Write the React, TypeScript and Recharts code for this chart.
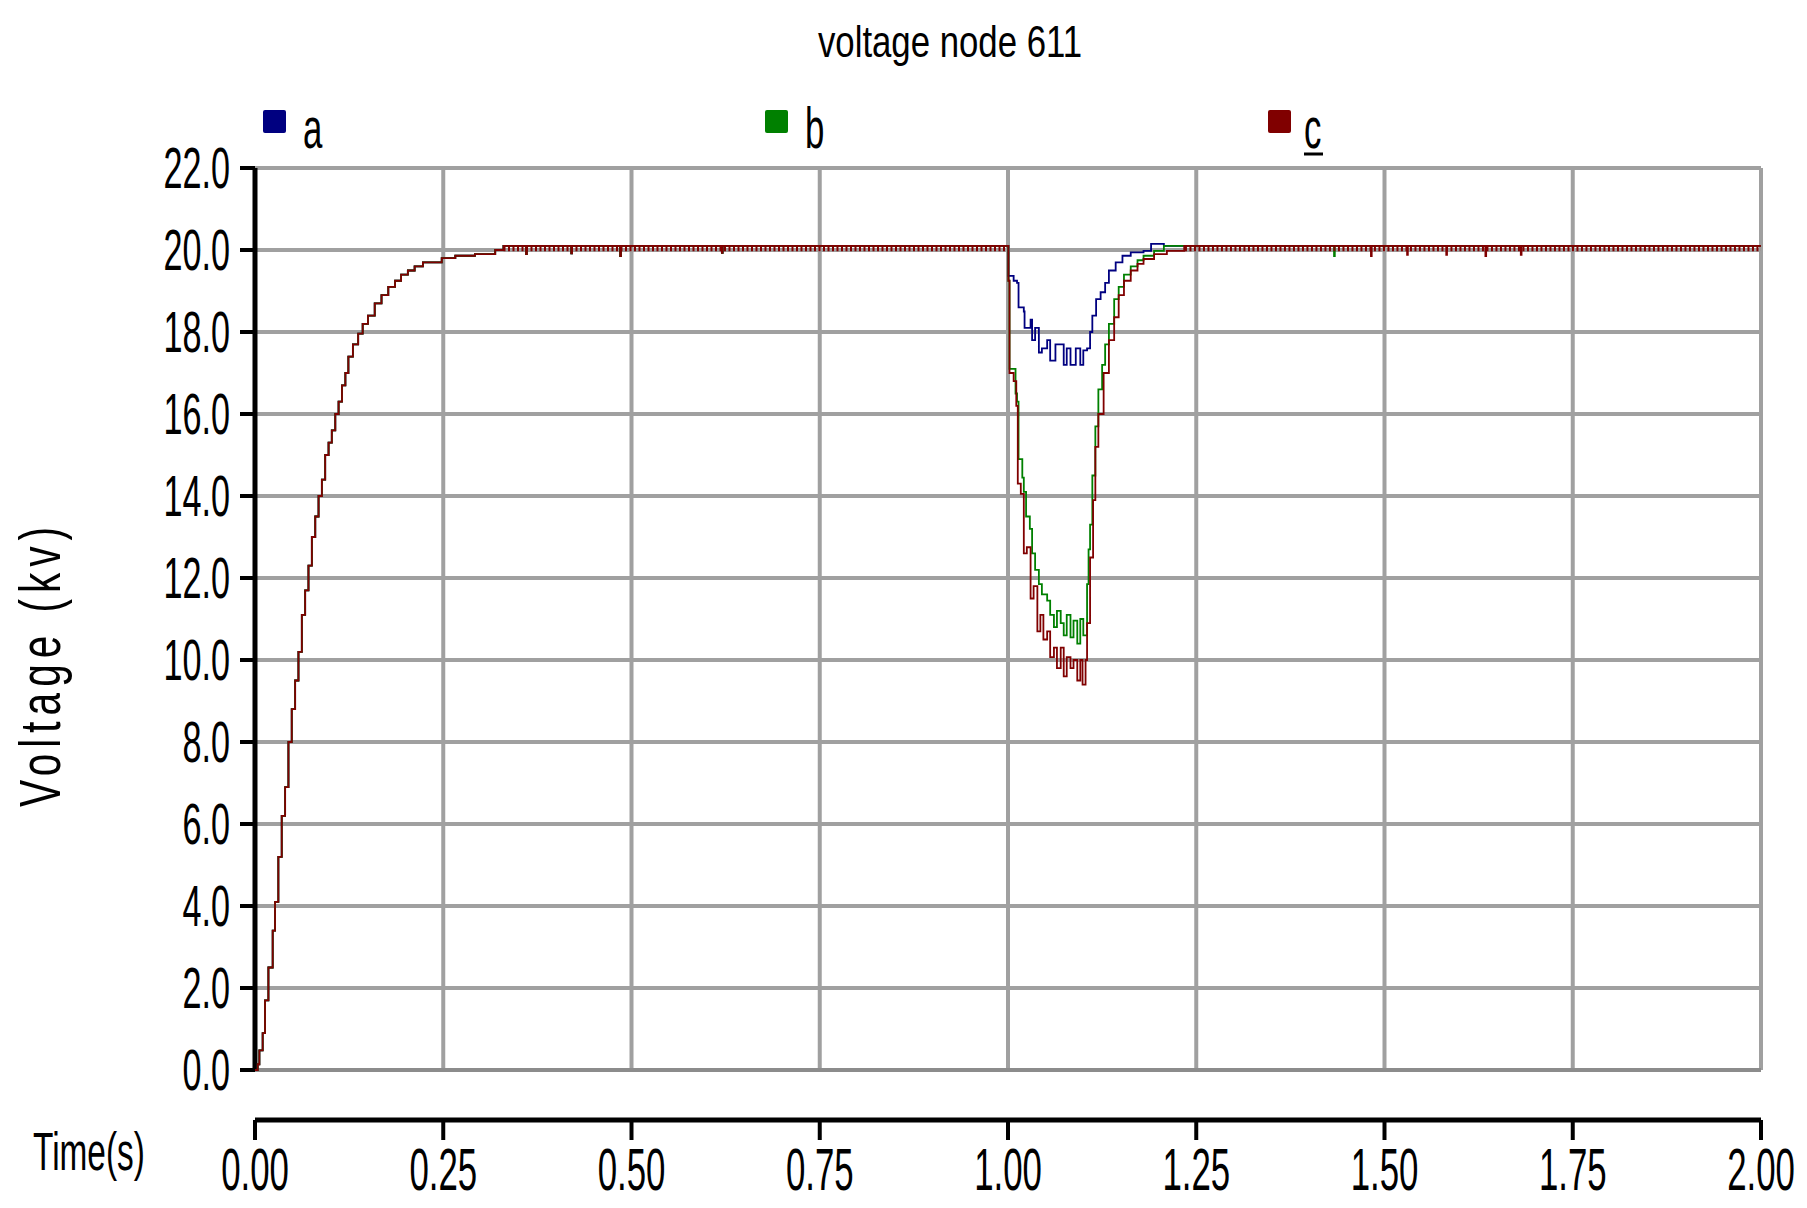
import { CartesianGrid, Line, LineChart, ReferenceLine, XAxis, YAxis } from "recharts";

const FONT = '"Liberation Sans", Arial, sans-serif';

// axis ticks
const timeTicks = [0, 0.25, 0.5, 0.75, 1.0, 1.25, 1.5, 1.75, 2.0];
const voltTicks = [0, 2, 4, 6, 8, 10, 12, 14, 16, 18, 20, 22];

// energising ramp, same for all three phases (s, kV)
const startTime = [
  0, 0.0036, 0.0058, 0.0102, 0.0133, 0.0178, 0.0235, 0.0266, 0.031, 0.0355,
  0.04, 0.0444, 0.0488, 0.0533, 0.0577, 0.0622, 0.0666, 0.071, 0.0755, 0.08,
  0.0844, 0.0888, 0.0932, 0.0977, 0.102, 0.1066, 0.111, 0.1155, 0.12, 0.124,
  0.13, 0.137, 0.143, 0.15, 0.159, 0.168, 0.177, 0.186, 0.194, 0.203, 0.212,
  0.223, 0.234, 0.248, 0.266, 0.292, 0.319,
];
const startVolts = [
  0, 0.14, 0.48, 0.9, 1.7, 2.5, 3.4, 4.1, 5.2, 6.2, 6.9, 8.0, 8.8, 9.5, 10.2,
  11.1, 11.7, 12.3, 13.0, 13.5, 14.0, 14.4, 15.0, 15.3, 15.6, 16.0, 16.3, 16.7,
  17.0, 17.4, 17.7, 17.96, 18.2, 18.4, 18.7, 18.9, 19.1, 19.25, 19.4, 19.5,
  19.6, 19.7, 19.7, 19.8, 19.86, 19.9, 20.0,
];

// steady state before the fault
const calmTime = [0.33, 0.36, 0.361, 0.42, 0.421, 0.485, 0.486, 0.62, 0.621, 0.999];
const calmVolts = [20.1, 19.9, 20.1, 19.92, 20.1, 19.85, 20.1, 19.93, 20.1, 20.1];

// sag, phase a
const aSagTime = [
  1.0, 1.0005, 1.0075, 1.012, 1.014, 1.021, 1.022, 1.03, 1.032, 1.036, 1.041,
  1.045, 1.052, 1.056, 1.063, 1.07, 1.074, 1.078, 1.083, 1.09, 1.096, 1.1,
  1.105, 1.109, 1.112, 1.117, 1.123, 1.129, 1.134, 1.143, 1.152, 1.163, 1.18,
  1.19, 1.207,
];
const aSagVolts = [
  20.1, 19.37, 19.25, 19.2, 18.6, 18.5, 18.1, 18.3, 17.8, 18.1, 17.5, 17.6,
  17.8, 17.3, 17.7, 17.7, 17.2, 17.6, 17.2, 17.6, 17.2, 17.55, 17.6, 18.0,
  18.4, 18.8, 18.97, 19.2, 19.5, 19.7, 19.86, 19.94, 19.98, 20.15, 20.1,
];

// sag, phase b
const bSagTime = [
  1.0, 1.0005, 1.002, 1.0075, 1.01, 1.012, 1.014, 1.019, 1.021, 1.024, 1.029,
  1.032, 1.036, 1.041, 1.045, 1.052, 1.056, 1.061, 1.065, 1.07, 1.074, 1.078,
  1.083, 1.087, 1.092, 1.096, 1.1, 1.105, 1.107, 1.109, 1.112, 1.116, 1.12,
  1.125, 1.129, 1.134, 1.141, 1.147, 1.154, 1.163, 1.172, 1.18, 1.194, 1.207,
];
const bSagVolts = [
  20.1, 19.25, 17.1, 17.1, 16.5, 16.3, 14.9, 14.45, 14.1, 13.5, 13.2, 12.6,
  12.2, 11.85, 11.6, 11.45, 11.1, 10.8, 11.2, 10.9, 10.6, 11.1, 10.55, 10.96,
  10.4, 11.0, 10.6, 11.85, 12.7, 13.3, 14.5, 15.7, 16.6, 17.2, 17.7, 18.2,
  18.8, 19.1, 19.4, 19.6, 19.75, 19.86, 19.98, 20.1,
];

// sag, phase c
const cSagTime = [
  1.0, 1.0005, 1.002, 1.0075, 1.011, 1.013, 1.017, 1.021, 1.025, 1.03, 1.034,
  1.039, 1.043, 1.047, 1.052, 1.056, 1.061, 1.065, 1.07, 1.074, 1.078, 1.083,
  1.087, 1.092, 1.096, 1.099, 1.103, 1.105, 1.109, 1.113, 1.116, 1.12, 1.127,
  1.134, 1.141, 1.147, 1.154, 1.163, 1.172, 1.18, 1.194, 1.211, 1.234,
];
const cSagVolts = [
  20.1, 19.25, 17.0, 16.8, 16.2, 14.3, 14.05, 12.6, 12.75, 11.5, 11.8, 10.7,
  11.1, 10.5, 10.7, 10.07, 10.3, 9.8, 10.3, 9.6, 10.07, 9.8, 10.0, 9.5, 10.0,
  9.4, 10.0, 10.9, 12.5, 13.9, 15.2, 16.0, 17.0, 17.8, 18.36, 18.9, 19.25,
  19.5, 19.66, 19.78, 19.9, 19.98, 20.1,
];

// steady state after the fault
const aTailTime = [1.25, 2.0];
const aTailVolts = [20.1, 20.1];
const bTailTime = [1.25, 1.433, 1.434, 2.0];
const bTailVolts = [20.1, 19.85, 20.1, 20.1];
const cTailTime = [1.25, 1.482, 1.483, 1.53, 1.531, 1.582, 1.583, 1.634, 1.635, 1.681, 1.682, 2.0];
const cTailVolts = [20.1, 19.85, 20.1, 19.88, 20.1, 19.88, 20.1, 19.85, 20.1, 19.88, 20.1, 20.1];

// switching ripple on phase c at 20 kV
const rippleTime = [0.33, 0.999, 1.0, 1.235, 2.0];
const rippleVolts = [20.04, 20.04, null, 20.04, 20.04];

const zip = (ts: number[], vs: (number | null)[]) => ts.map((t, i) => ({ t, v: vs[i] }));

const phaseA = zip(
  [...startTime, ...calmTime, ...aSagTime, ...aTailTime],
  [...startVolts, ...calmVolts, ...aSagVolts, ...aTailVolts],
);
const phaseB = zip(
  [...startTime, ...calmTime, ...bSagTime, ...bTailTime],
  [...startVolts, ...calmVolts, ...bSagVolts, ...bTailVolts],
);
const phaseC = zip(
  [...startTime, ...calmTime, ...cSagTime, ...cTailTime],
  [...startVolts, ...calmVolts, ...cSagVolts, ...cTailVolts],
);
const rippleC = zip(rippleTime, rippleVolts);

const legendItems = [
  { name: "a", color: "#000080", box: 263, label: 303 },
  { name: "b", color: "#008000", box: 765, label: 805 },
  { name: "c", color: "#800000", box: 1268, label: 1304 },
];

const YTick = ({ x, y, payload }: any) => (
  <text
    transform={`translate(${x},${y}) scale(0.6,1)`}
    dy={20}
    textAnchor="end"
    fontSize={57}
    fontFamily={FONT}
    fill="#000"
  >
    {Number(payload.value).toFixed(1)}
  </text>
);

const XTick = ({ x, y, payload }: any) => (
  <text
    transform={`translate(${x},${y}) scale(0.58,1)`}
    dy={48}
    textAnchor="middle"
    fontSize={60}
    fontFamily={FONT}
    fill="#000"
  >
    {Number(payload.value).toFixed(2)}
  </text>
);

export default function App() {
  return (
    <div style={{ position: "absolute", left: 0, top: 0, width: 1807, height: 1208, background: "#fff" }}>
      <LineChart width={1807} height={1208} margin={{ top: 168, right: 46, bottom: 0, left: 0 }}>
        <CartesianGrid vertical={false} stroke="#a0a0a0" strokeWidth={4} />
        <XAxis
          type="number"
          dataKey="t"
          domain={[0, 2]}
          ticks={timeTicks}
          height={88}
          axisLine={{ stroke: "#000", strokeWidth: 5 }}
          tickLine={{ stroke: "#000", strokeWidth: 4 }}
          tickSize={20}
          tick={XTick}
          allowDataOverflow
        />
        <YAxis
          type="number"
          domain={[-1.22, 22]}
          ticks={voltTicks}
          width={255}
          axisLine={false}
          tickLine={{ stroke: "#000", strokeWidth: 4 }}
          tickSize={15}
          tickMargin={10}
          tick={YTick}
          allowDataOverflow
        />
        {timeTicks.slice(1).map((t) => (
          <ReferenceLine
            key={t}
            segment={[{ x: t, y: 0 }, { x: t, y: 22 }]}
            stroke="#a0a0a0"
            strokeWidth={4}
          />
        ))}
        <ReferenceLine y={0} stroke="#8c8c8c" strokeWidth={4} />
        <ReferenceLine segment={[{ x: 0, y: 0 }, { x: 0, y: 22 }]} stroke="#000" strokeWidth={5} />
        <Line data={phaseA} dataKey="v" type="stepAfter" stroke="#000080" strokeWidth={1.8} dot={false} isAnimationActive={false} />
        <Line data={phaseB} dataKey="v" type="stepAfter" stroke="#008000" strokeWidth={1.8} dot={false} isAnimationActive={false} />
        <Line data={phaseC} dataKey="v" type="stepAfter" stroke="#800000" strokeWidth={1.8} dot={false} isAnimationActive={false} />
        <Line
          data={rippleC}
          dataKey="v"
          type="linear"
          stroke="#800000"
          strokeWidth={6}
          strokeDasharray="2 2.5"
          dot={false}
          isAnimationActive={false}
        />
      </LineChart>
      <svg width={1807} height={1208} style={{ position: "absolute", left: 0, top: 0, pointerEvents: "none" }}>
        <text transform="translate(950,57) scale(0.79,1)" textAnchor="middle" fontSize={44} fontFamily={FONT}>
          voltage node 611
        </text>
        {legendItems.map((item) => (
          <g key={item.name}>
            <rect x={item.box} y={110} width={23} height={23} rx={2} fill={item.color} />
            <text transform={`translate(${item.label},148) scale(0.6,1)`} fontSize={58} fontFamily={FONT}>
              {item.name}
            </text>
          </g>
        ))}
        <line x1={1304} y1={154} x2={1323} y2={154} stroke="#000" strokeWidth={3} />
        <text transform="translate(60,667) rotate(-90) scale(0.7,1)" textAnchor="middle" fontSize={58} fontFamily={FONT} textLength={400} lengthAdjust="spacing">
          Voltage (kv)
        </text>
        <text transform="translate(33,1170) scale(0.63,1)" fontSize={53} fontFamily={FONT}>
          Time(s)
        </text>
      </svg>
    </div>
  );
}
